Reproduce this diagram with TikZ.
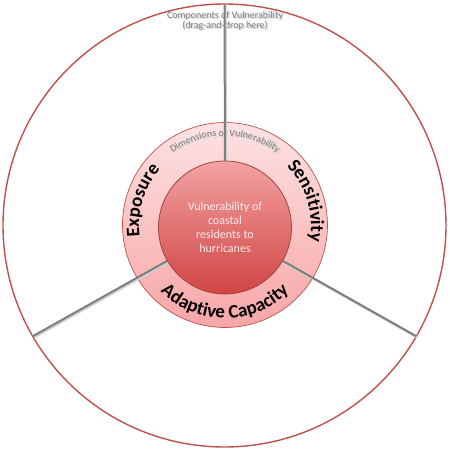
\documentclass[tikz,border=0pt]{standalone}
\usepackage{fontspec}
\setmainfont{Carlito}
\usetikzlibrary{decorations.text}
\definecolor{rimred}{HTML}{C0504D}
\definecolor{ringtop}{HTML}{FDE2E2}
\definecolor{ringbot}{HTML}{F7A6A6}
\definecolor{coretop}{HTML}{F4A2A2}
\definecolor{corebot}{HTML}{D04444}
\definecolor{spoke}{HTML}{7F7F7F}
\definecolor{shade}{HTML}{D0D0D0}
\definecolor{labgray}{HTML}{7A7A7A}
\begin{document}
\begin{tikzpicture}[x=1pt,y=1pt,
  disc/.style={circle, inner sep=0pt, outer sep=0pt},
  spokeline/.style={draw=spoke, line width=2pt},
  spokeshadow/.style={draw=shade, line width=2.4pt},
  dimtext/.style={decorate, decoration={text along path, text align=center,
     text color=#1, text={|\fontsize{10}{11}\selectfont|Dimensions of Vulnerability}}},
  bigtext/.style={decorate, decoration={text along path, text align=center,
     text color=black, text={|\bfseries\fontsize{19}{21}\selectfont|#1}}}
]
\useasboundingbox (-225,-225) rectangle (225,226);
% outer circle
\node[disc, draw=rimred, line width=1.4pt, minimum size=443pt] (outer) at (-0.5,0.5) {};
% middle ring
\node[disc, draw=rimred, line width=0.7pt, top color=ringtop, bottom color=ringbot, minimum size=205pt] (ring) at (0,1) {};
% top caption
\node[text=shade, align=center, font=\fontsize{10}{10.5}\selectfont] (capshadow) at (1.2,204) {Components of Vulnerability\\(drag-and-drop here)};
\node[text=labgray, align=center, font=\fontsize{10}{10.5}\selectfont] (caption) at (0,205) {Components of Vulnerability\\(drag-and-drop here)};
% ring title
\path[dimtext=shade] (1,-1.2) ++(150:90) arc[start angle=150, end angle=30, radius=90pt];
\path[dimtext=labgray] (0,0) ++(150:90) arc[start angle=150, end angle=30, radius=90pt];
% core
\node[disc, minimum size=133pt] (coreref) at (0,-1.5) {};
% spokes
\draw[spokeshadow] ([shift={(1,-1.2)}]coreref.90) -- ([shift={(1,-1.2)}]outer.90);
\draw[spokeshadow] ([shift={(1,-1.2)}]coreref.210) -- ([shift={(1,-1.2)}]outer.210);
\draw[spokeshadow] ([shift={(1,-1.2)}]coreref.330) -- ([shift={(1,-1.2)}]outer.330);
\draw[spokeline] (coreref.90) -- (outer.90);
\draw[spokeline] (coreref.210) -- (outer.210);
\draw[spokeline] (coreref.330) -- (outer.330);
% core disc
\node[disc, draw=rimred!85!black, line width=0.8pt, top color=coretop, bottom color=corebot, minimum size=133pt,
  text=white!92!red, align=center, font=\fontsize{12}{14}\selectfont] (core) at (0,-1.5)
  {Vulnerability of\\coastal\\residents to\\hurricanes};
% dimension labels
\path[bigtext=Exposure] (0,0) ++(213:86) arc[start angle=213, end angle=113, radius=86pt];
\path[bigtext=Sensitivity] (0,0) ++(67:86) arc[start angle=67, end angle=-33, radius=86pt];
\path[bigtext=Adaptive Capacity] (0,0) ++(200:92) arc[start angle=200, end angle=340, radius=92pt];
\end{tikzpicture}
\end{document}
